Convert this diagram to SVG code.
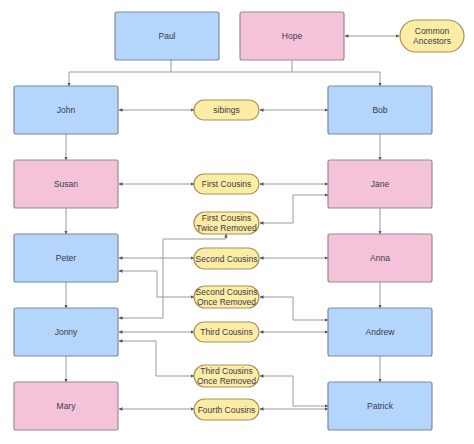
<svg xmlns="http://www.w3.org/2000/svg" width="474" height="444" viewBox="0 0 474 444">
<style>
.b{fill:#b4d5fc;stroke:#7d8aa0;stroke-width:1.2}
.p{fill:#f5c3d9;stroke:#9a8a94;stroke-width:1.2}
.y{fill:#fdeca6;stroke:#a39356;stroke-width:1.2}
text{font-family:"Liberation Sans",Arial,sans-serif;font-size:8.5px;fill:#3a3a4a;text-anchor:middle}
.c path{fill:none;stroke:#9a9a9a;stroke-width:1}
.a path{marker-end:url(#ah)}
.d path{marker-start:url(#ah);marker-end:url(#ah)}
</style>
<defs>
<marker id="ah" viewBox="0 0 8 8" refX="7" refY="4" markerWidth="4" markerHeight="4" orient="auto-start-reverse" markerUnits="userSpaceOnUse">
<path d="M0,0.5 L8,4 L0,7.5 Z" fill="#555"/>
</marker>
</defs>
<rect width="474" height="444" fill="#fff"/>
<g class="c">
<path d="M171,60 V72 M292,60 V72 M69,72 H380"/>
<g class="a">
<path d="M69,72 V86"/><path d="M380,72 V86"/>
<path d="M66,134 V160"/><path d="M66,208 V234"/><path d="M66,282 V308"/><path d="M66,356 V382"/>
<path d="M380,134 V160"/><path d="M380,208 V234"/><path d="M380,282 V308"/><path d="M380,356 V382"/>
</g>
<g class="d">
<path d="M345,36 H399"/>
<path d="M119,110 H194"/><path d="M260,110 H328"/>
<path d="M119,184 H194"/><path d="M260,184 H328"/>
<path d="M328,195 H293 V223 H260"/>
<path d="M119,258 H194"/><path d="M260,258 H328"/>
<path d="M119,271 H157 V297 H194"/>
<path d="M260,297 H293 V320 H328"/>
<path d="M226,234 V239 H163 V318 H119"/>
<path d="M119,332 H194"/><path d="M260,332 H328"/>
<path d="M119,341 H156 V376 H194"/>
<path d="M260,376 H293 V406 H328"/>
<path d="M119,409 H194"/><path d="M260,409 H328"/>
</g>
</g>
<g id="paul"><rect class="b" x="115" y="12" width="104" height="48" rx="2"/><text x="167" y="38.5">Paul</text></g>
<g id="hope"><rect class="p" x="240" y="12" width="104" height="48" rx="2"/><text x="292" y="38.5">Hope</text></g>
<g id="common-ancestors"><rect class="y" x="400" y="20" width="64" height="32" rx="16"/><text x="432" y="33.5">Common</text><text x="432" y="43.5">Ancestors</text></g>
<g id="john"><rect class="b" x="14" y="86" width="104" height="48" rx="2"/><text x="66" y="112.5">John</text></g>
<g id="bob"><rect class="b" x="328" y="86" width="104" height="48" rx="2"/><text x="380" y="112.5">Bob</text></g>
<g id="sibings"><rect class="y" x="194" y="100" width="65" height="20" rx="10"/><text x="226.5" y="113">sibings</text></g>
<g id="susan"><rect class="p" x="14" y="160" width="104" height="48" rx="2"/><text x="66" y="186.5">Susan</text></g>
<g id="jane"><rect class="p" x="328" y="160" width="104" height="48" rx="2"/><text x="380" y="186.5">Jane</text></g>
<g id="first-cousins"><rect class="y" x="194" y="174" width="65" height="20" rx="10"/><text x="226.5" y="187">First Cousins</text></g>
<g id="first-cousins-twice-removed"><rect class="y" x="194" y="212" width="65" height="22" rx="11"/><text x="226.5" y="221">First Cousins</text><text x="226.5" y="230.5">Twice Removed</text></g>
<g id="peter"><rect class="b" x="14" y="234" width="104" height="48" rx="2"/><text x="66" y="260.5">Peter</text></g>
<g id="anna"><rect class="p" x="328" y="234" width="104" height="48" rx="2"/><text x="380" y="260.5">Anna</text></g>
<g id="second-cousins"><rect class="y" x="194" y="248" width="65" height="21" rx="10.5"/><text x="226.5" y="261.5">Second Cousins</text></g>
<g id="second-cousins-once-removed"><rect class="y" x="194" y="286" width="65" height="22" rx="11"/><text x="226.5" y="295">Second Cousins</text><text x="226.5" y="304.5">Once Removed</text></g>
<g id="jonny"><rect class="b" x="14" y="308" width="104" height="48" rx="2"/><text x="66" y="334.5">Jonny</text></g>
<g id="andrew"><rect class="b" x="328" y="308" width="104" height="48" rx="2"/><text x="380" y="334.5">Andrew</text></g>
<g id="third-cousins"><rect class="y" x="194" y="322" width="65" height="20" rx="10"/><text x="226.5" y="335">Third Cousins</text></g>
<g id="third-cousins-once-removed"><rect class="y" x="194" y="365" width="65" height="22" rx="11"/><text x="226.5" y="374">Third Cousins</text><text x="226.5" y="383.5">Once Removed</text></g>
<g id="mary"><rect class="p" x="14" y="382" width="104" height="48" rx="2"/><text x="66" y="408.5">Mary</text></g>
<g id="patrick"><rect class="b" x="328" y="382" width="104" height="48" rx="2"/><text x="380" y="408.5">Patrick</text></g>
<g id="fourth-cousins"><rect class="y" x="194" y="399" width="65" height="21" rx="10.5"/><text x="226.5" y="412.5">Fourth Cousins</text></g>
</svg>
